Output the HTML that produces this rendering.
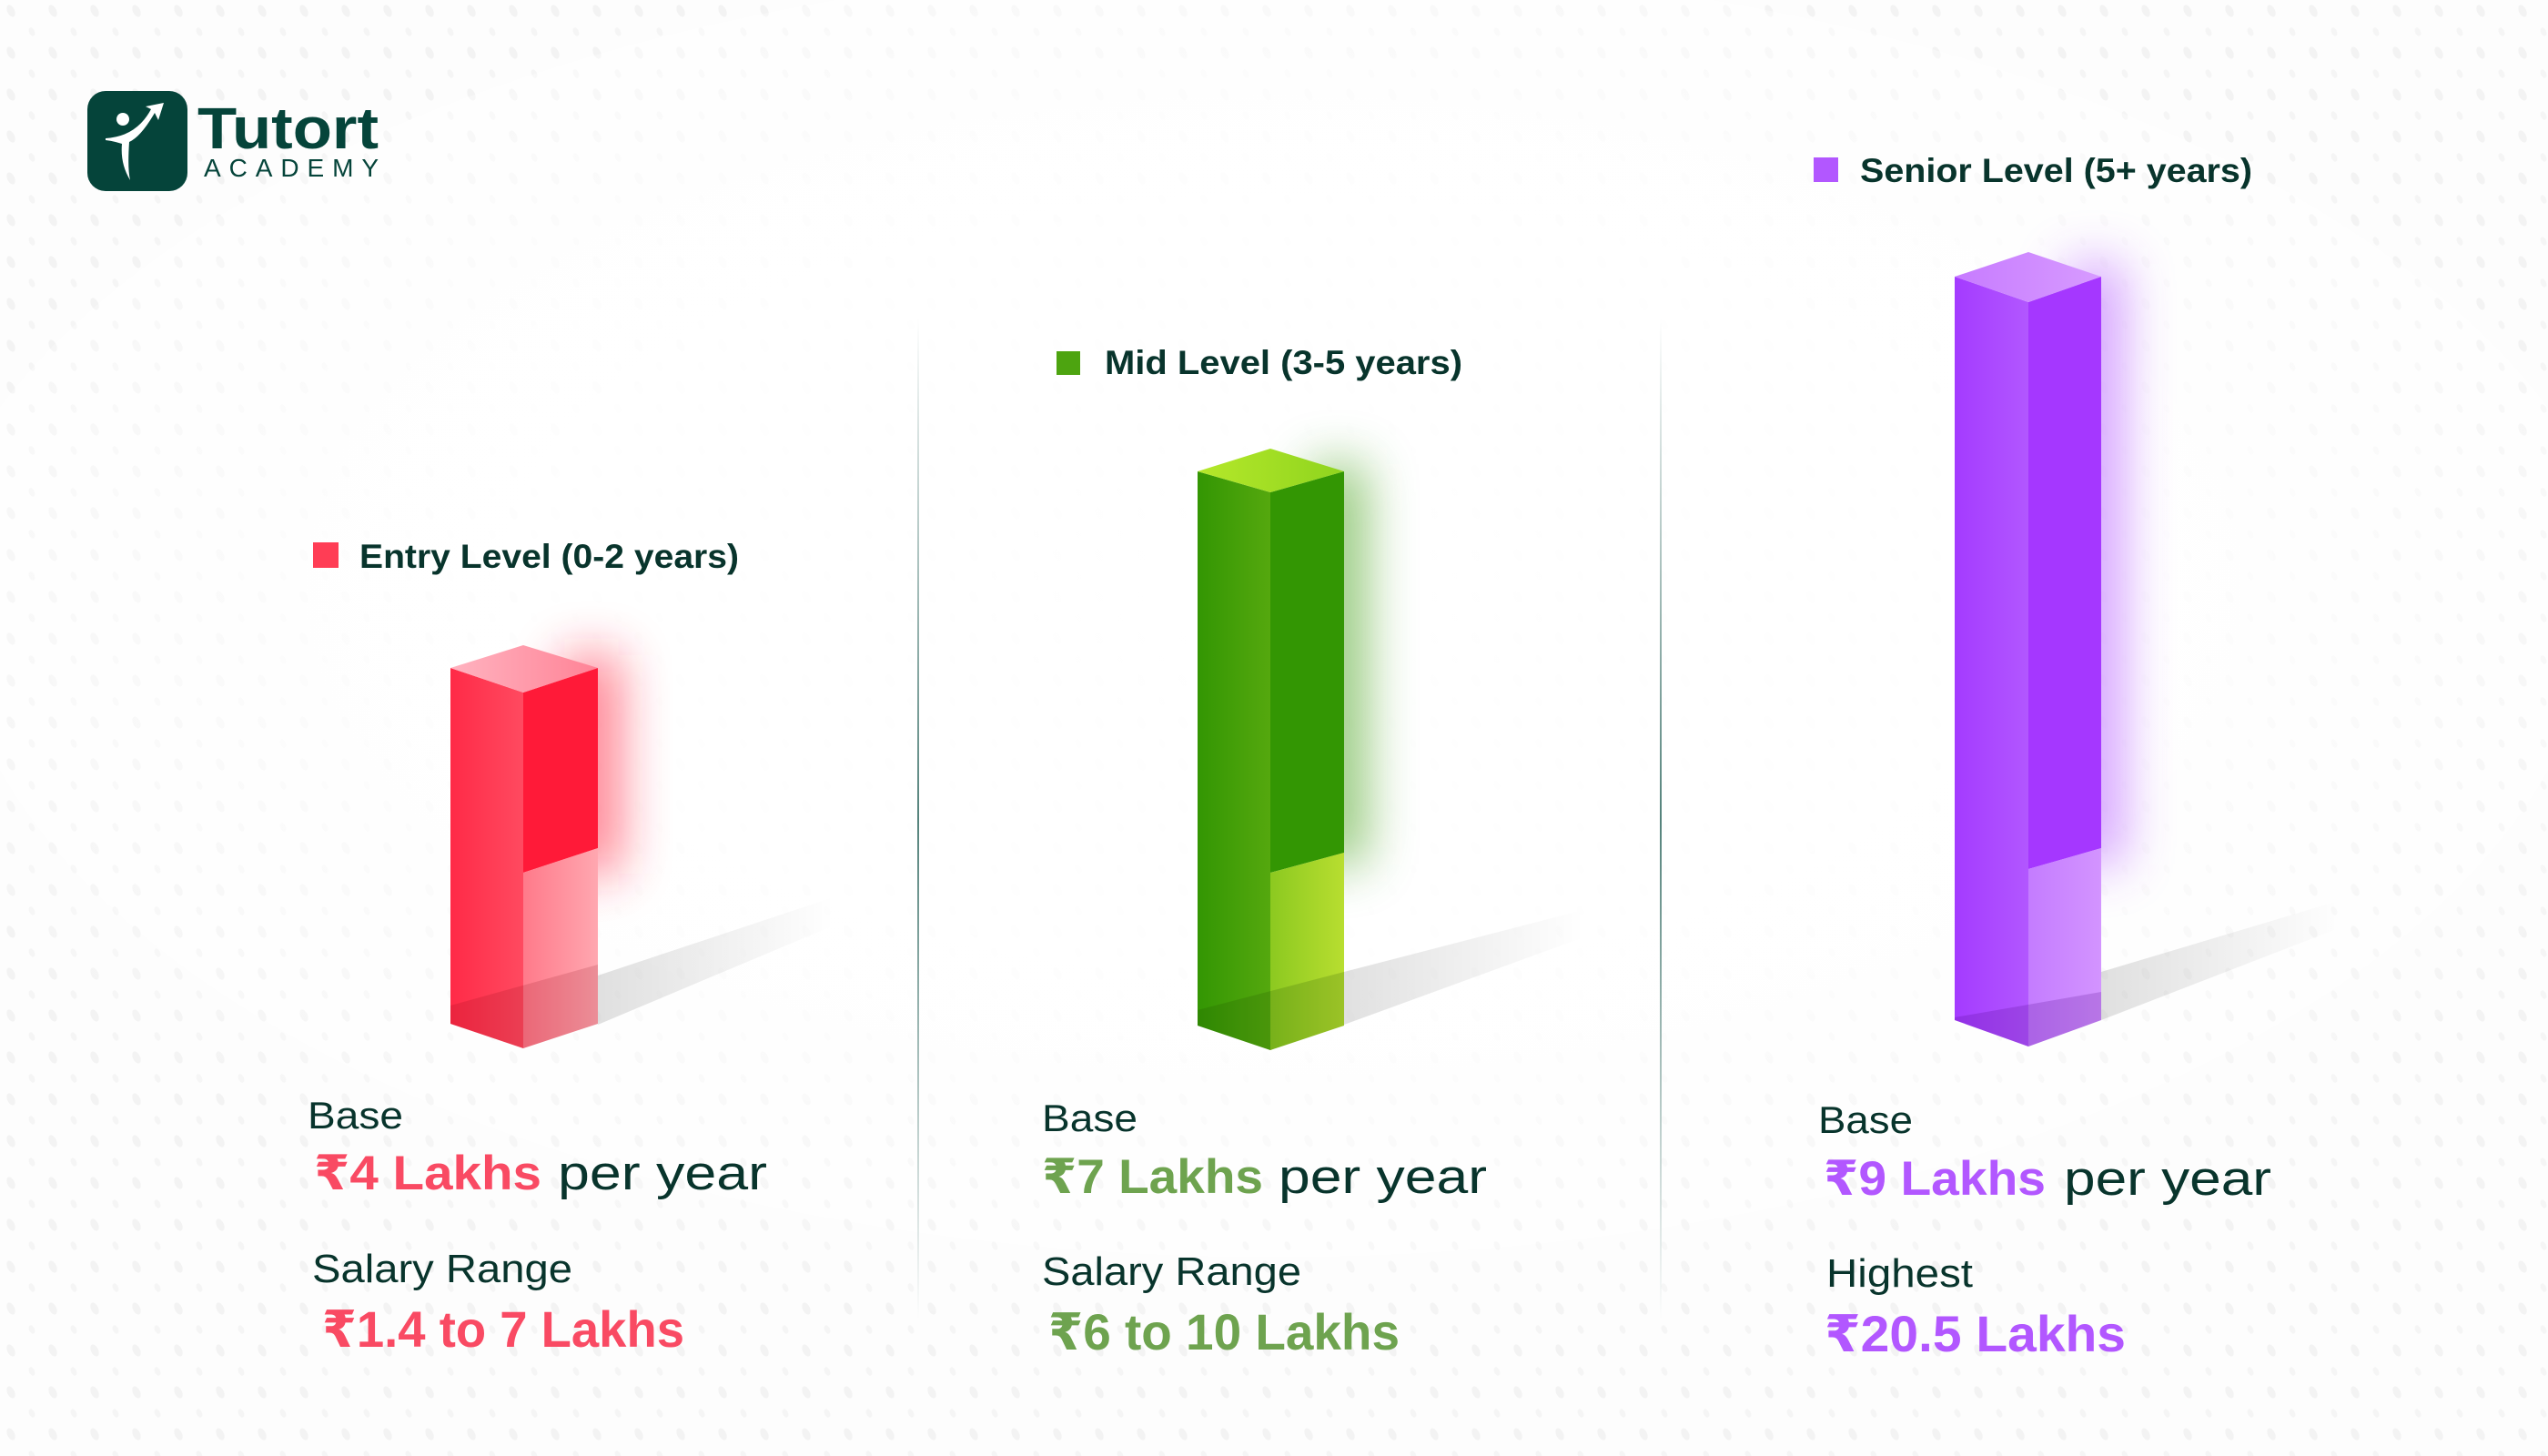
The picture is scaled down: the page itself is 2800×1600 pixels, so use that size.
<!DOCTYPE html>
<html><head><meta charset="utf-8"><style>
html,body{margin:0;padding:0;background:#fdfdfd}
svg{display:block}
text{font-family:"Liberation Sans","DejaVu Sans",sans-serif}
</style></head><body>
<svg width="2800" height="1600" viewBox="0 0 2800 1600" xmlns="http://www.w3.org/2000/svg">
<defs>
<pattern id="dots" width="46" height="46" patternUnits="userSpaceOnUse">
<ellipse cx="12" cy="12" rx="4" ry="7" fill="#f3f3f3" transform="rotate(-25 12 12)"/>
<ellipse cx="35" cy="35" rx="3" ry="5" fill="#f5f5f5" transform="rotate(-25 35 35)"/>
</pattern>
<radialGradient id="fade" cx="0.5" cy="0.45" r="0.55">
<stop offset="0" stop-color="#fff" stop-opacity="1"/>
<stop offset="0.6" stop-color="#fff" stop-opacity="0.85"/>
<stop offset="1" stop-color="#fff" stop-opacity="0"/>
</radialGradient>
<filter id="blur" x="-100%" y="-50%" width="300%" height="200%"><feGaussianBlur stdDeviation="28"/></filter>
<linearGradient id="shadow" x1="0" y1="0" x2="1" y2="0">
<stop offset="0" stop-color="#000" stop-opacity="0.12"/>
<stop offset="1" stop-color="#000" stop-opacity="0"/>
</linearGradient>
<linearGradient id="div" x1="0" y1="0" x2="0" y2="1">
<stop offset="0" stop-color="#0b4d43" stop-opacity="0"/>
<stop offset="0.5" stop-color="#0b4d43" stop-opacity="0.7"/>
<stop offset="1" stop-color="#0b4d43" stop-opacity="0"/>
</linearGradient>
<linearGradient id="rTop" x1="0" y1="0" x2="1" y2="0"><stop offset="0" stop-color="#ffb3c0"/><stop offset="1" stop-color="#ff8396"/></linearGradient>
<linearGradient id="rLeft" x1="0" y1="0" x2="1" y2="0"><stop offset="0" stop-color="#ff2a47"/><stop offset="1" stop-color="#ff4a60"/></linearGradient>
<linearGradient id="rLow" x1="0" y1="0" x2="1" y2="0"><stop offset="0" stop-color="#ff7a8a"/><stop offset="1" stop-color="#ffa7b0"/></linearGradient>
<linearGradient id="gTop" x1="0" y1="0" x2="1" y2="0"><stop offset="0" stop-color="#b5e82a"/><stop offset="1" stop-color="#8fd41e"/></linearGradient>
<linearGradient id="gLeft" x1="0" y1="0" x2="1" y2="0"><stop offset="0" stop-color="#339603"/><stop offset="1" stop-color="#55a80e"/></linearGradient>
<linearGradient id="gLow" x1="0" y1="0" x2="1" y2="0"><stop offset="0" stop-color="#8cc920"/><stop offset="1" stop-color="#b8de30"/></linearGradient>
<linearGradient id="pTop" x1="0" y1="0" x2="1" y2="0"><stop offset="0" stop-color="#c77bff"/><stop offset="1" stop-color="#d79bff"/></linearGradient>
<linearGradient id="pLeft" x1="0" y1="0" x2="1" y2="0"><stop offset="0" stop-color="#a43bff"/><stop offset="1" stop-color="#b257ff"/></linearGradient>
<linearGradient id="pLow" x1="0" y1="0" x2="1" y2="0"><stop offset="0" stop-color="#c47cff"/><stop offset="1" stop-color="#d394ff"/></linearGradient>
</defs>
<rect width="2800" height="1600" fill="#fdfdfd"/>
<rect width="2800" height="1600" fill="url(#dots)"/>
<ellipse cx="1400" cy="720" rx="1500" ry="760" fill="url(#fade)"/>

<rect x="1008" y="350" width="2" height="1100" fill="url(#div)"/>
<rect x="1824" y="350" width="2" height="1100" fill="url(#div)"/>

<rect x="96" y="100" width="110" height="110" rx="20" fill="#05443a"/>
<circle cx="135" cy="131" r="7" fill="#fff"/>
<path d="M116 152 Q150 150 166 120 L160 117 L180 113 L174 132 L170 124 Q155 150 142 156 Q140 185 143 198 Q132 180 134 158 Q125 155 116 154 Z" fill="#fff"/>
<text x="217" y="163" font-size="64" font-weight="bold" fill="#05443a" textLength="199" lengthAdjust="spacingAndGlyphs">Tutort</text>
<text x="224" y="194" font-size="28" fill="#05443a" textLength="192" lengthAdjust="spacing">ACADEMY</text>

<!-- RED -->
<polygon points="657,1072 916,986 916,1017 657,1126" fill="url(#shadow)"/>
<rect x="620" y="720" width="60" height="240" fill="#ff1a38" opacity="0.6" filter="url(#blur)"/>
<polygon points="495,734 575,761 575,1152 495,1125" fill="url(#rLeft)"/>
<polygon points="575,761 657,734 657,932 575,959" fill="#ff1a38"/>
<polygon points="575,959 657,932 657,1125 575,1152" fill="url(#rLow)"/>
<polygon points="495,734 575,709 657,734 575,761" fill="url(#rTop)"/>
<polygon points="495,1105 657,1060 657,1125 575,1152 495,1125" fill="#7a0010" opacity="0.15"/>
<rect x="344" y="596" width="28" height="28" fill="#ff3d55"/>
<text x="395" y="624" font-size="37" font-weight="bold" fill="#08342c" textLength="417" lengthAdjust="spacingAndGlyphs">Entry Level (0-2 years)</text>
<text x="338" y="1240" font-size="42" fill="#08342c" textLength="105" lengthAdjust="spacingAndGlyphs">Base</text>
<text x="345" y="1307" font-size="53" font-weight="bold" fill="#f94a63" textLength="250" lengthAdjust="spacingAndGlyphs">₹4 Lakhs</text>
<text x="613" y="1307" font-size="53" fill="#08342c" textLength="230" lengthAdjust="spacingAndGlyphs">per year</text>
<text x="343" y="1409" font-size="44" fill="#08342c" textLength="286" lengthAdjust="spacingAndGlyphs">Salary Range</text>
<text x="354" y="1480" font-size="56" font-weight="bold" fill="#f94a63" textLength="398" lengthAdjust="spacingAndGlyphs">₹1.4 to 7 Lakhs</text>

<!-- GREEN -->
<polygon points="1477,1068 1740,1000 1740,1030 1477,1126" fill="url(#shadow)"/>
<rect x="1440" y="510" width="60" height="440" fill="#339603" opacity="0.55" filter="url(#blur)"/>
<polygon points="1316,518 1396,541 1396,1154 1316,1127" fill="url(#gLeft)"/>
<polygon points="1396,541 1477,518 1477,937 1396,959" fill="#339603"/>
<polygon points="1396,959 1477,937 1477,1127 1396,1154" fill="url(#gLow)"/>
<polygon points="1316,518 1396,493 1477,518 1396,541" fill="url(#gTop)"/>
<polygon points="1316,1110 1477,1068 1477,1127 1396,1154 1316,1127" fill="#1a4a00" opacity="0.18"/>
<rect x="1161" y="386" width="26" height="26" fill="#4da410"/>
<text x="1214" y="411" font-size="37" font-weight="bold" fill="#08342c" textLength="393" lengthAdjust="spacingAndGlyphs">Mid Level (3-5 years)</text>
<text x="1145" y="1243" font-size="42" fill="#08342c" textLength="105" lengthAdjust="spacingAndGlyphs">Base</text>
<text x="1145" y="1311" font-size="53" font-weight="bold" fill="#6ea34f" textLength="243" lengthAdjust="spacingAndGlyphs">₹7 Lakhs</text>
<text x="1405" y="1311" font-size="53" fill="#08342c" textLength="229" lengthAdjust="spacingAndGlyphs">per year</text>
<text x="1145" y="1412" font-size="44" fill="#08342c" textLength="285" lengthAdjust="spacingAndGlyphs">Salary Range</text>
<text x="1152" y="1483" font-size="56" font-weight="bold" fill="#6ea34f" textLength="386" lengthAdjust="spacingAndGlyphs">₹6 to 10 Lakhs</text>

<!-- PURPLE -->
<polygon points="2309,1068 2570,990 2570,1020 2309,1121" fill="url(#shadow)"/>
<rect x="2272" y="290" width="60" height="660" fill="#a537ff" opacity="0.5" filter="url(#blur)"/>
<polygon points="2148,304 2229,332 2229,1150 2148,1121" fill="url(#pLeft)"/>
<polygon points="2229,332 2309,304 2309,932 2229,955" fill="#a537ff"/>
<polygon points="2229,955 2309,932 2309,1121 2229,1150" fill="url(#pLow)"/>
<polygon points="2148,304 2229,277 2309,304 2229,332" fill="url(#pTop)"/>
<polygon points="2148,1118 2309,1090 2309,1121 2229,1150 2148,1121" fill="#4a0080" opacity="0.2"/>
<rect x="1993" y="173" width="27" height="27" fill="#b257ff"/>
<text x="2044" y="200" font-size="37" font-weight="bold" fill="#08342c" textLength="431" lengthAdjust="spacingAndGlyphs">Senior Level (5+  years)</text>
<text x="1998" y="1245" font-size="42" fill="#08342c" textLength="104" lengthAdjust="spacingAndGlyphs">Base</text>
<text x="2004" y="1313" font-size="53" font-weight="bold" fill="#b257ff" textLength="244" lengthAdjust="spacingAndGlyphs">₹9 Lakhs</text>
<text x="2268" y="1313" font-size="53" fill="#08342c" textLength="228" lengthAdjust="spacingAndGlyphs">per year</text>
<text x="2007" y="1414" font-size="44" fill="#08342c" textLength="161" lengthAdjust="spacingAndGlyphs">Highest</text>
<text x="2005" y="1485" font-size="56" font-weight="bold" fill="#b257ff" textLength="331" lengthAdjust="spacingAndGlyphs">₹20.5 Lakhs</text>
</svg>
</body></html>
